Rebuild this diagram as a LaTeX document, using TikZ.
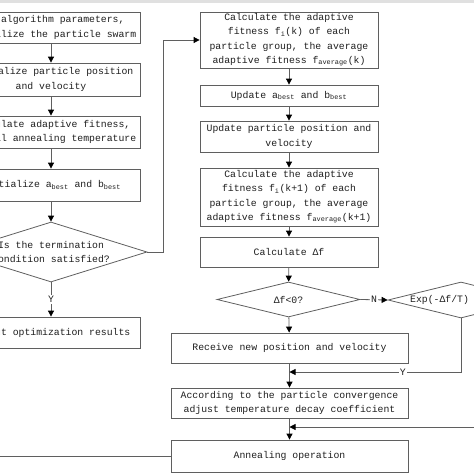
\documentclass[tikz,border=0pt]{standalone}
\usepackage{fontspec}
\setmonofont{Liberation Mono}
\usetikzlibrary{arrows.meta,positioning,shapes.geometric,calc}
\definecolor{linegray}{RGB}{95,95,95}
\definecolor{txt}{RGB}{30,30,30}

\begin{document}
\begin{tikzpicture}[x=1pt,y=-1pt,font=\ttfamily\fontsize{9.8}{14.2}\selectfont,>={Triangle[length=6pt,width=6pt,color=black]}]
\tikzset{box/.style={draw=linegray,line width=0.8pt,text=txt,align=center,inner sep=1pt,minimum width=178pt},
wide/.style={box,minimum width=237pt},
cond/.style={diamond,draw=linegray,line width=0.8pt,text=txt,align=center,inner sep=0pt},
flow/.style={->,draw=linegray,line width=0.8pt},
tag/.style={fill=white,inner sep=1pt,text=txt}}
\useasboundingbox (0,0) rectangle (474,474);
\clip (0,0) rectangle (474,474);
\fill[black!12] (0,0) rectangle (474,3);
% left column
\node[box,minimum height=31pt] (setp) at (51,27.5) {Set algorithm parameters,\\initialize the particle swarm};
\node[box,minimum height=33pt] (initpv) at (51,79.5) {Initialize particle position\\and velocity};
\node[box,minimum height=32pt] (initfit) at (51,132) {Calculate adaptive fitness,\\initial annealing temperature};
\node[box,minimum height=32pt] (initab) at (51,185) {Initialize a\textsubscript{best} and b\textsubscript{best}};
\node[cond,aspect=3.2,minimum width=192pt,minimum height=60pt] (term) at (51,252) {Is the termination\\condition satisfied?};
\node[box,minimum height=31pt] (out) at (51,332.5) {Output optimization results};
\draw[flow] (setp) -- (initpv);
\draw[flow] (initpv) -- (initfit);
\draw[flow] (initfit) -- (initab);
\draw[flow] (initab) -- (term);
\draw[flow] (term) -- node[tag] (yout) {Y} (out);
% right column
\node[box,minimum height=56pt] (fitk) at (289,40) {Calculate the adaptive\\fitness f\textsubscript{i}(k) of each\\particle group, the average\\adaptive fitness f\textsubscript{average}(k)};
\node[box,minimum height=21pt] (updab) at (289,95.5) {Update a\textsubscript{best} and b\textsubscript{best}};
\node[box,minimum height=31pt] (updpv) at (289,136.5) {Update particle position and\\velocity};
\node[box,minimum height=58pt] (fitk1) at (289,197) {Calculate the adaptive\\fitness f\textsubscript{i}(k+1) of each\\particle group, the average\\adaptive fitness f\textsubscript{average}(k+1)};
\node[box,minimum height=30pt] (delta) at (289,252) {Calculate Δf};
\node[cond,aspect=4.1,minimum width=143pt,minimum height=35pt] (neg) at (288.5,299.5) {Δf<0?};
\node[cond,aspect=4.05,minimum width=146pt,minimum height=36pt] (expc) at (461,300) {};
\node[text=txt,anchor=west,inner sep=0pt] (exptx) at (410,300) {Exp(-Δf/T)};
\node[wide,minimum height=30pt] (recv) at (289.5,348) {Receive new position and velocity};
\node[wide,minimum height=30pt] (adjust) at (289.5,403) {According to the particle convergence\\adjust temperature decay coefficient};
\node[wide,minimum height=32pt] (anneal) at (289.5,456) {Annealing operation};
\coordinate (turn) at (163,252);
\coordinate (join1) at (289.5,372);
\coordinate (join2) at (289.5,427);
\coordinate (back) at (-60,456);
\draw[flow] (term.east) -- (turn) |- (fitk.west);
\draw[flow] (fitk) -- (updab);
\draw[flow] (updab) -- (updpv);
\draw[flow] (updpv) -- (fitk1);
\draw[flow] (fitk1) -- (delta);
\draw[flow] (delta) -- (neg);
\draw[flow] (neg.east) -- node[tag] (nl) {N} (expc.west);
\draw[flow] (neg) -- (recv);
\draw[flow] (recv) -- (adjust);
\draw[flow] (expc.south) |- node[tag,pos=0.67] (yl) {Y} (join1);
\draw[flow] (expc.east) -- ++(40,0) |- (join2);
\draw[flow] (adjust) -- (anneal);
\draw[draw=linegray,line width=0.8pt] (anneal.west) -- (back);
\end{tikzpicture}
\end{document}
